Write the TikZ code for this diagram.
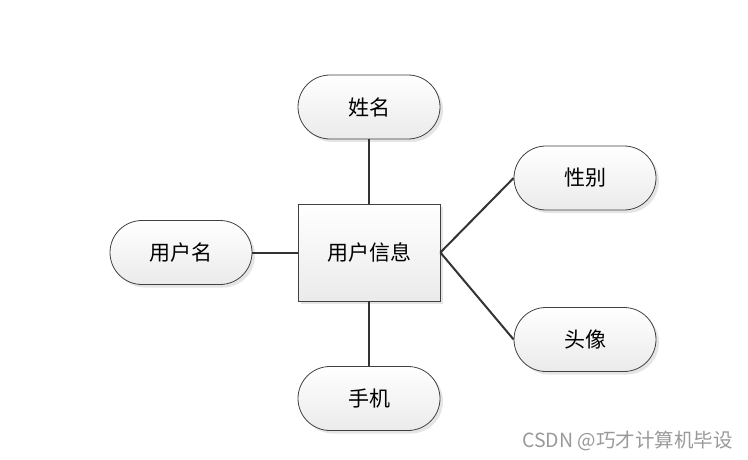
\documentclass[tikz,border=0pt]{standalone}
\usepackage{fontspec}
\setmainfont{Noto Sans CJK SC}
\usetikzlibrary{shadows,positioning}
\tikzstyle{attr}=[rectangle, rounded corners=32pt, draw=black!75, line width=0.8pt, top color=white, bottom color=black!8, minimum width=142pt, minimum height=64pt, inner sep=2pt, font=\fontsize{21}{25}\selectfont, drop shadow={shadow xshift=3pt, shadow yshift=-3pt, opacity=0.25, fill=black!40}]
\tikzstyle{entity}=[rectangle, draw=black!75, line width=0.8pt, top color=white, bottom color=black!8, minimum width=142pt, minimum height=97pt, inner sep=2pt, font=\fontsize{21}{25}\selectfont, drop shadow={shadow xshift=3pt, shadow yshift=-3pt, opacity=0.25, fill=black!40}]
\tikzstyle{l1}=[line width=2pt, black!80]

\begin{document}
\begin{tikzpicture}[x=1pt, y=-1pt]
    \useasboundingbox (0,0) rectangle (748,460);
    \node[entity] at (369, 252.5) (info) {用户信息};
    \node[attr] at (369, 107) (name) {姓名};
    \node[attr] at (585, 178) (gender) {性别};
    \node[attr] at (181, 252.5) (user) {用户名};
    \node[attr] at (585, 339.5) (avatar) {头像};
    \node[attr] at (369, 398.5) (phone) {手机};

    \draw[l1] (name) -- (info);
    \draw[l1] (user) -- (info);
    \draw[l1] (phone) -- (info);
    \draw[l1] (info.east) -- (gender.west);
    \draw[l1] (info.east) -- (avatar.west);

    \node[text=black!40, font=\fontsize{19.5}{22}\selectfont, anchor=east, inner sep=0pt] at (733, 441) (mark) {CSDN @巧才计算机毕设};
\end{tikzpicture}
\end{document}
